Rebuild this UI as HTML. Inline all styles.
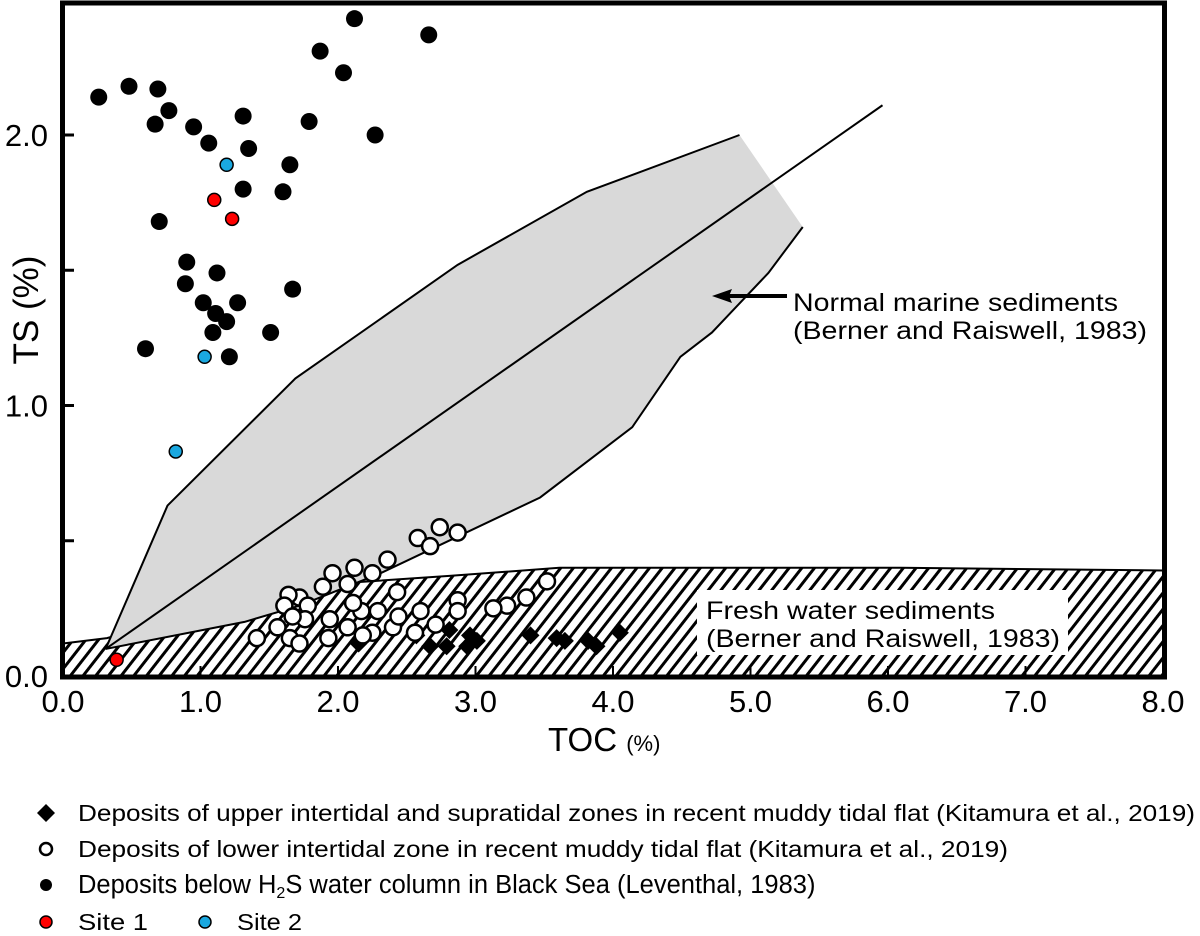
<!DOCTYPE html>
<html><head><meta charset="utf-8"><style>
body{margin:0;background:#fff;}
svg{display:block;font-family:"Liberation Sans",Arial,sans-serif;}
</style></head><body>
<svg id="chart" width="1200" height="936" viewBox="0 0 1200 936">
<defs>
<pattern id="hatch" width="10" height="10" patternUnits="userSpaceOnUse" patternTransform="rotate(38)">
<rect width="10" height="10" fill="#fff"/>
<line x1="0" y1="0" x2="0" y2="10" stroke="#000" stroke-width="6"/>
</pattern>
</defs>
<g id="plot"></g>
</svg>
<script>
const xTicks=[0,1,2,3,4,5,6,7,8];
const xTickLabels=["0.0","1.0","2.0","3.0","4.0","5.0","6.0","7.0","8.0"];
const yTicks=[0,0.5,1,1.5,2];
const yTickLabels={0:"0.0",1:"1.0",2:"2.0"};
const blackX=[0.26,0.48,0.69,0.77,0.67,0.95,1.06,1.35,1.31,1.79,2.27,1.87,2.04,2.12,2.66,1.65,1.31,1.60,0.70,0.90,1.12,0.89,1.67,1.02,1.27,1.11,1.19,1.09,1.51,0.60,1.21];
const blackY=[2.14,2.18,2.17,2.09,2.04,2.03,1.97,1.95,2.07,2.05,2.00,2.31,2.23,2.43,2.37,1.89,1.80,1.79,1.68,1.53,1.49,1.45,1.43,1.38,1.38,1.34,1.31,1.27,1.27,1.21,1.18];
const site2X=[1.19,1.03,0.82];
const site2Y=[1.89,1.18,0.83];
const site1X=[1.10,1.23,0.39];
const site1Y=[1.76,1.69,0.06];
const openX=[2.74,2.87,2.58,2.67,2.36,2.25,2.12,1.96,2.07,1.89,3.52,3.37,3.23,3.13,2.43,2.87,2.87,2.60,2.29,2.17,2.11,1.72,1.64,1.61,1.78,1.76,1.67,1.94,2.07,2.25,2.40,2.44,2.56,2.71,1.56,1.41,1.65,1.72,1.93,2.18];
const openY=[0.55,0.53,0.51,0.48,0.43,0.38,0.40,0.38,0.34,0.33,0.35,0.29,0.26,0.25,0.31,0.28,0.24,0.24,0.24,0.24,0.27,0.29,0.30,0.26,0.26,0.21,0.22,0.21,0.18,0.16,0.18,0.22,0.16,0.19,0.18,0.14,0.14,0.12,0.14,0.15];
const diaX=[2.15,2.57,2.67,2.79,2.81,2.96,3.01,2.94,3.40,3.59,3.65,3.82,3.88,4.05];
const diaY=[0.12,0.15,0.11,0.11,0.17,0.15,0.13,0.11,0.15,0.14,0.13,0.13,0.11,0.16];
const marineX=[0.31,0.76,1.69,2.87,3.81,4.92,5.38,5.13,4.85,4.72,4.49,4.14,3.47,2.89,2.31,1.72,1.32];
const marineY=[0.10,0.63,1.10,1.52,1.79,2.00,1.66,1.49,1.34,1.27,1.18,0.92,0.66,0.52,0.38,0.26,0.20];
const lineX=[0.31,5.96];
const lineY=[0.10,2.11];
const freshX=[0,0.32,1.0,1.94,2.81,3.61,4.63,6.09,8.0];
const freshY=[0.12,0.14,0.24,0.34,0.37,0.40,0.40,0.40,0.39];

const X=v=>63+v*137.5, Y=v=>676-v*270.5;
const NS="http://www.w3.org/2000/svg";
const g=document.getElementById('plot');
function mk(t,a,p){const e=document.createElementNS(NS,t);for(const k in a)e.setAttribute(k,a[k]);(p||g).appendChild(e);return e;}
const pts=(xs,ys)=>xs.map((x,i)=>X(x)+','+Y(ys[i])).join(' ');

let fp=pts(freshX,freshY)+' '+X(8)+','+Y(0)+' '+X(0)+','+Y(0);
let e=mk('polygon',{points:fp,fill:'url(#hatch)',stroke:'none'});


e=mk('polyline',{points:pts(freshX,freshY),fill:'none',stroke:'#000','stroke-width':2});


e=mk('polygon',{points:pts(marineX,marineY),fill:'#d9d9d9',stroke:'none'});


e=mk('polyline',{points:pts(marineX.slice(0,6),marineY.slice(0,6)),fill:'none',stroke:'#000','stroke-width':2});


e=mk('polyline',{points:pts(marineX.slice(6).concat([marineX[0]]),marineY.slice(6).concat([marineY[0]])),fill:'none',stroke:'#000','stroke-width':2});


e=mk('line',{x1:X(lineX[0]),y1:Y(lineY[0]),x2:X(lineX[1]),y2:Y(lineY[1]),stroke:'#000','stroke-width':2});



e=mk('rect',{x:697,y:590,width:371,height:65,fill:'#fff'});


e=mk('text',{x:706,y:619,'font-size':25,textLength:289,lengthAdjust:'spacingAndGlyphs'});e.textContent='Fresh water sediments';


e=mk('text',{x:706,y:647,'font-size':25,textLength:354,lengthAdjust:'spacingAndGlyphs'});e.textContent='(Berner and Raiswell, 1983)';


e=mk('text',{x:793,y:311,'font-size':25,textLength:325,lengthAdjust:'spacingAndGlyphs'});e.textContent='Normal marine sediments';


e=mk('text',{x:793,y:339,'font-size':25,textLength:354,lengthAdjust:'spacingAndGlyphs'});e.textContent='(Berner and Raiswell, 1983)';


e=mk('line',{x1:787,y1:296,x2:728,y2:296,stroke:'#000','stroke-width':4});


e=mk('polygon',{points:'712,296 732,289 729,296 732,303',fill:'#000'});



diaX.forEach((x,i)=>{const cx=X(x),cy=Y(diaY[i]);const m=mk('polygon',{points:`${cx},${cy-9} ${cx+9},${cy} ${cx},${cy+9} ${cx-9},${cy}`,fill:'#000'});

});
openX.forEach((x,i)=>{const m=mk('circle',{cx:X(x),cy:Y(openY[i]),r:8,fill:'#fff',stroke:'#000','stroke-width':2.5});

});
blackX.forEach((x,i)=>{const m=mk('circle',{cx:X(x),cy:Y(blackY[i]),r:8.5,fill:'#000'});

});
site1X.forEach((x,i)=>{const m=mk('circle',{cx:X(x),cy:Y(site1Y[i]),r:6.5,fill:'#f00',stroke:'#000','stroke-width':1.5});

});
site2X.forEach((x,i)=>{const m=mk('circle',{cx:X(x),cy:Y(site2Y[i]),r:6.5,fill:'#1aa8e0',stroke:'#000','stroke-width':1.5});

});

e=mk('rect',{x:62.5,y:3,width:1102,height:674,fill:'none',stroke:'#000','stroke-width':5});


yTicks.forEach(v=>{const t=mk('line',{x1:63,x2:74,y1:Y(v),y2:Y(v),stroke:'#000','stroke-width':3});


if(yTickLabels[v]){const l=mk('text',{x:48,y:Y(v)+11,'font-size':31,'text-anchor':'end'});l.textContent=yTickLabels[v];

}});
xTicks.forEach((v,i)=>{const t=mk('line',{x1:X(v),x2:X(v),y1:676,y2:666,stroke:'#000','stroke-width':2});


const l=mk('text',{x:X(v),y:712,'font-size':31,'text-anchor':'middle'});l.textContent=xTickLabels[i];

});
e=mk('text',{x:548,y:751,'font-size':33});e.innerHTML='TOC <tspan font-size="22">(%)</tspan>';


e=mk('text',{x:0,y:0,'font-size':35,'text-anchor':'middle',transform:'translate(38,310) rotate(-90)'});e.textContent='TS (%)';



const lg=mk('g',{});


mk('polygon',{points:'46,804 55,813 46,822 37,813',fill:'#000'},lg);
mk('circle',{cx:46,cy:849,r:6,fill:'#fff',stroke:'#000','stroke-width':2.5},lg);
mk('circle',{cx:46,cy:885,r:6,fill:'#000'},lg);
mk('circle',{cx:46,cy:922,r:6,fill:'#f00',stroke:'#000','stroke-width':1.5},lg);
mk('circle',{cx:205,cy:922,r:6,fill:'#1aa8e0',stroke:'#000','stroke-width':1.5},lg);
const lt=[[78,821,'Deposits of upper intertidal and supratidal zones in recent muddy tidal flat (Kitamura et al., 2019)',1117],[78,857,'Deposits of lower intertidal zone in recent muddy tidal flat (Kitamura et al., 2019)',930],[78,893,'Deposits below H<tspan font-size="16" dy="5">2</tspan><tspan dy="-5">S water column in Black Sea (Leventhal, 1983)</tspan>',0],[78,930,'Site 1',70],[237,930,'Site 2',65]];
lt.forEach(a=>{const t=mk('text',{x:a[0],y:a[1],'font-size':a[3]?23:25.5},lg);t.innerHTML=a[2];
if(a[3]){t.setAttribute('textLength',a[3]);t.setAttribute('lengthAdjust','spacingAndGlyphs');}

});
</script>
</body></html>
